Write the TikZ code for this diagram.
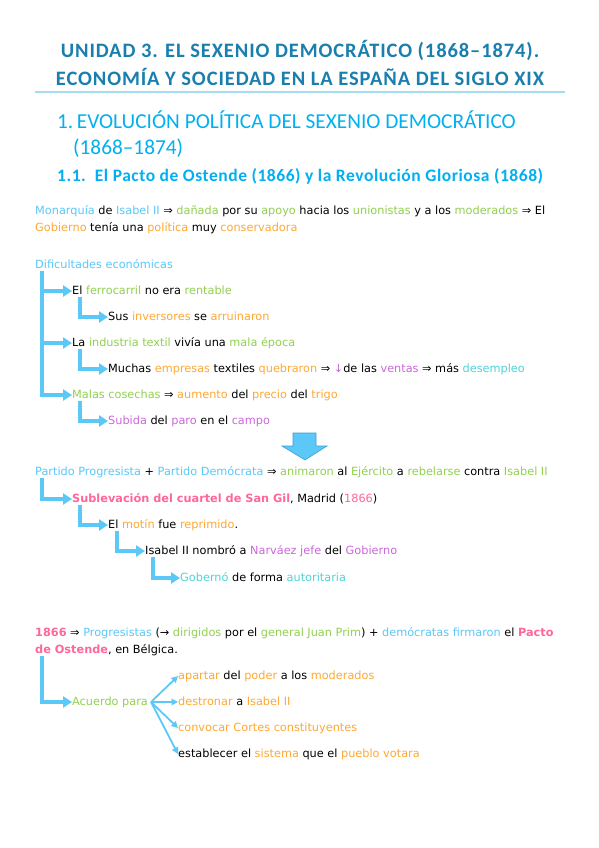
\documentclass[tikz,border=0pt]{standalone}
\usepackage{fontspec}
\setmainfont{DejaVu Sans}
\newfontfamily\titfont{Carlito}
\newfontfamily\titfontesp[LetterSpace=4.4]{Carlito}
\newfontfamily\subfontesp[LetterSpace=3.1]{Carlito}
\usetikzlibrary{arrows.meta}

\definecolor{titazul}{HTML}{1A7FAE}
\definecolor{secazul}{HTML}{00B0F0}
\definecolor{lineazul}{HTML}{A6DCF2}
\definecolor{celeste}{HTML}{5BC8F8}
\definecolor{verdecl}{HTML}{92D050}
\definecolor{naranjacl}{HTML}{FFA833}
\definecolor{moradocl}{HTML}{CC66DD}
\definecolor{turqcl}{HTML}{4FD4D8}
\definecolor{rosacl}{HTML}{FF6699}
\definecolor{flecha}{HTML}{5BC8F8}
\definecolor{flechaborde}{HTML}{3AA0D0}

\newcommand{\azul}[1]{\textcolor{celeste}{#1}}
\newcommand{\verde}[1]{\textcolor{verdecl}{#1}}
\newcommand{\naranja}[1]{\textcolor{naranjacl}{#1}}
\newcommand{\morado}[1]{\textcolor{moradocl}{#1}}
\newcommand{\turq}[1]{\textcolor{turqcl}{#1}}
\newcommand{\rosa}[1]{\textcolor{rosacl}{\bfseries #1}}
\newcommand{\rosaclaro}[1]{\textcolor{rosacl}{#1}}

\tikzset{
  texto/.style={anchor=west, inner sep=0pt, text height=9pt, text depth=3pt, font=\fontsize{11.3}{13}\selectfont},
  larrow/.style={draw=flecha, line width=4pt, -{Triangle[length=9pt,width=11pt]}},
  fanarrow/.style={draw=flecha, line width=1.8pt, -{Triangle[length=6.5pt,width=6.5pt]}}
}

\begin{document}
\begin{tikzpicture}[x=1pt, y=-1pt]
                \useasboundingbox[fill=white] (0,0) rectangle (599,848);
                % Titulo
                \node[inner sep=0pt, text=titazul, font=\titfontesp\bfseries\fontsize{20.5}{24}\selectfont] at (300,50) (tit1) {UNIDAD 3. EL SEXENIO DEMOCRÁTICO (1868–1874).};
                \node[inner sep=0pt, text=titazul, font=\titfontesp\bfseries\fontsize{20.5}{24}\selectfont] at (300,77) (tit2) {ECONOMÍA Y SOCIEDAD EN LA ESPAÑA DEL SIGLO XIX};
                \coordinate (ri) at (35,92);
                \coordinate (rd) at (565,92);
                \draw[lineazul, line width=1.5pt] (ri) -- (rd);

                % Apartados
                \node[anchor=west, inner sep=0pt, text=secazul, font=\titfont\fontsize{21.3}{24}\selectfont] at (57,120) (h1) {1.\,EVOLUCIÓN POLÍTICA DEL SEXENIO DEMOCRÁTICO};
                \node[anchor=west, inner sep=0pt, text=secazul, font=\titfont\fontsize{21.3}{24}\selectfont] at (73,148) (h1b) {(1868–1874)};
                \node[anchor=west, inner sep=0pt, text=secazul, font=\subfontesp\bfseries\fontsize{17.5}{20}\selectfont] at (57,176) (h11) {1.1.\ \ El Pacto de Ostende (1866) y la Revolución Gloriosa (1868)};

                % Nodos
                \node[texto] at (35,211) (mon1) {\azul{Monarquía} de \azul{Isabel II} ⇒ \verde{dañada} por su \verde{apoyo} hacia los \verde{unionistas} y a los \verde{moderados} ⇒ El};
                \node[texto] at (35,228) (mon2) {\naranja{Gobierno} tenía una \naranja{política} muy \naranja{conservadora}};

                \node[texto] at (35,265) (dif) {\azul{Dificultades económicas}};
                \node[texto] at (72,291) (ferro) {El \verde{ferrocarril} no era \verde{rentable}};
                \node[texto] at (108,317) (inv) {Sus \naranja{inversores} se \naranja{arruinaron}};
                \node[texto] at (72,343) (ind) {La \verde{industria textil} vivía una \verde{mala época}};
                \node[texto] at (108,369) (emp) {Muchas \naranja{empresas} textiles \naranja{quebraron} ⇒ \morado{↓}de las \morado{ventas} ⇒ más \turq{desempleo}};
                \node[texto] at (72,395) (mal) {\verde{Malas cosechas} ⇒ \naranja{aumento} del \naranja{precio} del \naranja{trigo}};
                \node[texto] at (108,421) (sub) {\morado{Subida} del \morado{paro} en el \morado{campo}};

                \node[texto] at (35,472) (par) {\azul{Partido Progresista} + \azul{Partido Demócrata} ⇒ \verde{animaron} al \verde{Ejército} a \verde{rebelarse} contra \verde{Isabel II}};
                \node[texto] at (72,499) (sgil) {\rosa{Sublevación del cuartel de San Gil}, Madrid (\rosaclaro{1866})};
                \node[texto] at (108,525) (motin) {El \naranja{motín} fue \naranja{reprimido}.};
                \node[texto] at (145,551) (narv) {Isabel II nombró a \morado{Narváez jefe} del \morado{Gobierno}};
                \node[texto] at (180,578) (gob) {\turq{Gobernó} de forma \turq{autoritaria}};

                \node[texto] at (35,633) (pac1) {\rosa{1866} ⇒ \azul{Progresistas} (→ \verde{dirigidos} por el \verde{general Juan Prim}) + \azul{demócratas firmaron} el \rosa{Pacto}};
                \node[texto] at (35,650) (pac2) {\rosa{de Ostende}, en Bélgica.};
                \node[texto] at (72,702) (acu) {\verde{Acuerdo para}};
                \node[texto] at (178,676) (a1) {\naranja{apartar} del \naranja{poder} a los \naranja{moderados}};
                \node[texto] at (178,702) (a2) {\naranja{destronar} a \naranja{Isabel II}};
                \node[texto] at (178,728) (a3) {\naranja{convocar Cortes constituyentes}};
                \node[texto] at (178,754) (a4) {establecer el \naranja{sistema} que el \naranja{pueblo votara}};

                % Flecha grande
                \filldraw[fill=flecha, draw=flechaborde, line width=0.6pt] (293,433) -- (316,433) -- (316,446) -- (327,446) -- (305,460) -- (282,446) -- (293,446) -- cycle;

                % Flechas
                \draw[larrow] ([xshift=7pt]dif.south west) |- (ferro.west);
                \draw[larrow] ([xshift=7pt]dif.south west) |- (ind.west);
                \draw[larrow] ([xshift=7pt]dif.south west) |- (mal.west);
                \draw[larrow] ([xshift=8pt]ferro.south west) |- (inv.west);
                \draw[larrow] ([xshift=8pt]ind.south west) |- (emp.west);
                \draw[larrow] ([xshift=8pt]mal.south west) |- (sub.west);

                \draw[larrow] ([xshift=7pt]par.south west) |- (sgil.west);
                \draw[larrow] ([xshift=8pt]sgil.south west) |- (motin.west);
                \draw[larrow] ([xshift=9pt]motin.south west) |- (narv.west);
                \draw[larrow] ([xshift=8pt]narv.south west) |- (gob.west);

                \draw[larrow] ([xshift=7pt]pac2.south west) |- (acu.west);
                \draw[fanarrow] ([xshift=3pt]acu.east) -- (a1.west);
                \draw[fanarrow] ([xshift=3pt]acu.east) -- (a2.west);
                \draw[fanarrow] ([xshift=3pt]acu.east) -- (a3.west);
                \draw[fanarrow] ([xshift=3pt]acu.east) -- (a4.west);
            \end{tikzpicture}
\end{document}
